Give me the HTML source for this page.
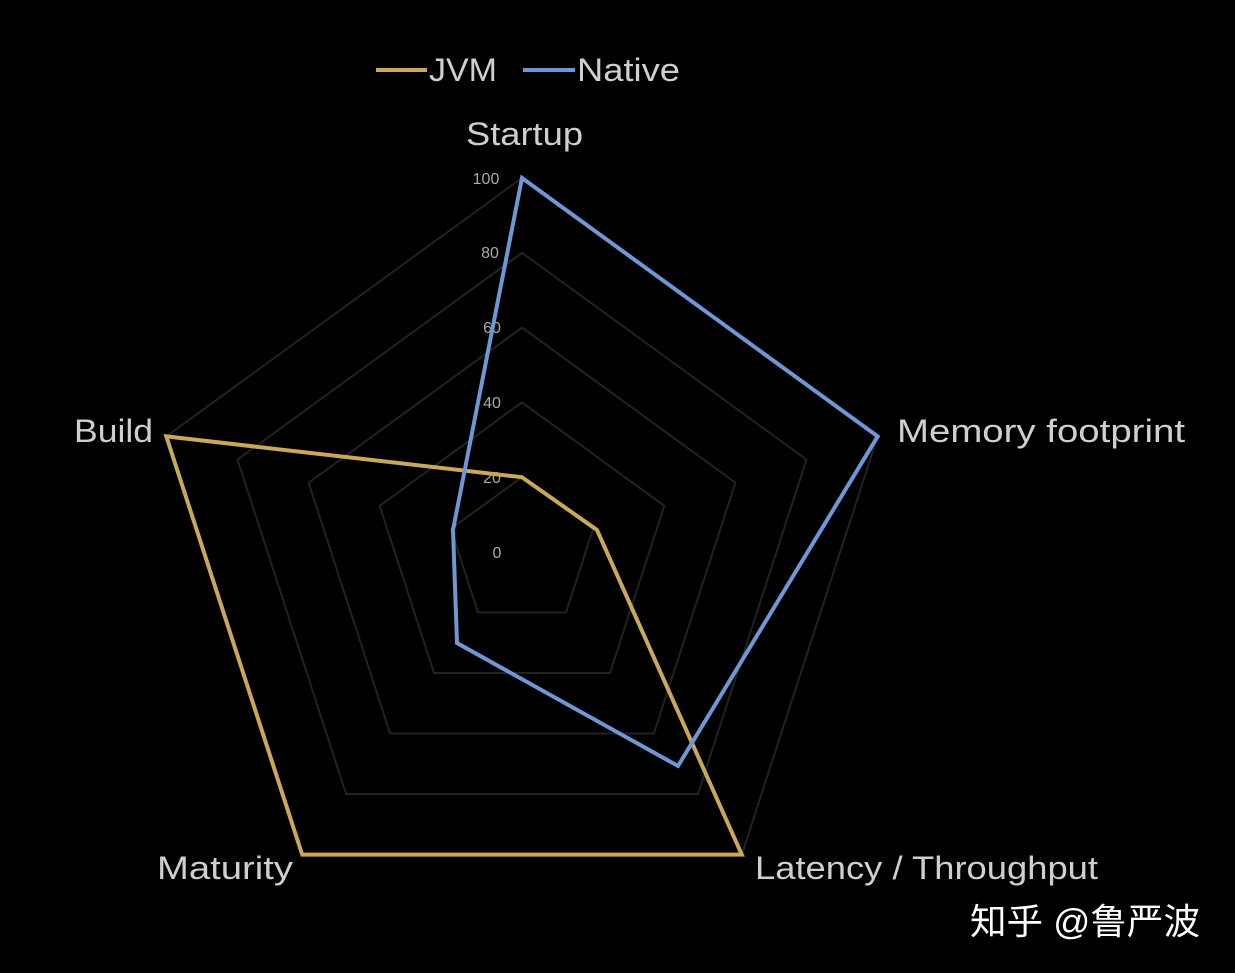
<!DOCTYPE html>
<html><head><meta charset="utf-8"><style>
html,body{margin:0;padding:0;background:#000;}
svg{display:block}
</style></head><body>
<svg width="1235" height="973" viewBox="0 0 1235 973" xmlns="http://www.w3.org/2000/svg">
<rect width="1235" height="973" fill="#000"/>
<g fill="none" stroke="#222" stroke-width="2">
<polygon points="522,477.2 593.1,528.9 566,612.5 478,612.5 450.9,528.9"/>
<polygon points="522,402.4 664.3,505.8 610,673 434,673 379.7,505.8"/>
<polygon points="522,327.6 735.4,482.7 653.9,733.5 390.1,733.5 308.6,482.7"/>
<polygon points="522,252.8 806.5,459.6 697.9,794 346.1,794 237.5,459.6"/>
<polygon points="522,178 877.7,436.4 741.8,854.6 302.2,854.6 166.3,436.4"/>
</g>
<g font-family="Liberation Sans, sans-serif" font-size="16" fill="#aaa" text-anchor="middle">
<text x="497" y="558">0</text>
<text x="492" y="483">20</text>
<text x="492" y="408">40</text>
<text x="492" y="333">60</text>
<text x="490" y="258">80</text>
<text x="486" y="184">100</text>
</g>
<polygon points="522,477.2 597,530 741.8,854.6 302.2,854.6 166.3,436.4" fill="none" stroke="#c9a85a" stroke-width="4"/>
<polygon points="522,178 877.7,436.4 678,766 457,643 453,530" fill="none" stroke="#6f97d6" stroke-width="4"/>
<g font-family="Liberation Sans, sans-serif" font-size="32" fill="#cfcfcf" lengthAdjust="spacingAndGlyphs">
<text x="466" y="145" textLength="117" lengthAdjust="spacingAndGlyphs">Startup</text>
<text x="897" y="442" textLength="288" lengthAdjust="spacingAndGlyphs">Memory footprint</text>
<text x="755" y="879" textLength="343" lengthAdjust="spacingAndGlyphs">Latency / Throughput</text>
<text x="157" y="879" textLength="136" lengthAdjust="spacingAndGlyphs">Maturity</text>
<text x="74" y="442" textLength="79" lengthAdjust="spacingAndGlyphs">Build</text>
<line x1="376" y1="70" x2="427" y2="70" stroke="#c9a85a" stroke-width="4"/>
<text x="429" y="81" textLength="68" lengthAdjust="spacingAndGlyphs">JVM</text>
<line x1="523" y1="70" x2="575" y2="70" stroke="#6f97d6" stroke-width="4"/>
<text x="577" y="81" textLength="103" lengthAdjust="spacingAndGlyphs">Native</text>
</g>
<text x="970" y="934" font-family="Liberation Sans, Noto Sans CJK SC, sans-serif" font-size="36" fill="#fff" textLength="230" lengthAdjust="spacingAndGlyphs">知乎 @鲁严波</text>
</svg>
</body></html>
